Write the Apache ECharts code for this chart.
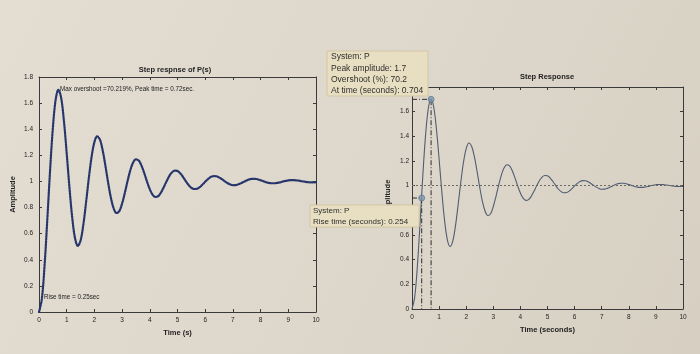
<!DOCTYPE html>
<html>
<head>
<meta charset="utf-8">
<script src="https://cdn.jsdelivr.net/npm/echarts@6/dist/echarts.min.js"></script>
<style>
html,body{margin:0;padding:0;background:#ded7cb;}
#c{width:700px;height:354px;}
</style>
</head>
<body>
<div id="c"></div>
<script>
// ---- data ----
const time = [0,0.1,0.2,0.3,0.4,0.5,0.6,0.7,0.8,0.9,1,1.1,1.2,1.3,1.4,1.5,1.6,1.7,1.8,1.9,2,2.1,2.2,2.3,2.4,2.5,2.6,2.7,2.8,2.9,3,3.1,3.2,3.3,3.4,3.5,3.6,3.7,3.8,3.9,4,4.1,4.2,4.3,4.4,4.5,4.6,4.7,4.8,4.9,5,5.1,5.2,5.3,5.4,5.5,5.6,5.7,5.8,5.9,6,6.1,6.2,6.3,6.4,6.5,6.6,6.7,6.8,6.9,7,7.1,7.2,7.3,7.4,7.5,7.6,7.7,7.8,7.9,8,8.1,8.2,8.3,8.4,8.5,8.6,8.7,8.8,8.9,9,9.1,9.2,9.3,9.4,9.5,9.6,9.7,9.8,9.9,10];
const amplitude = [0.000,0.096,0.353,0.708,1.084,1.408,1.624,1.702,1.640,1.463,1.216,0.952,0.722,0.566,0.507,0.547,0.668,0.841,1.027,1.190,1.301,1.346,1.320,1.237,1.117,0.986,0.871,0.791,0.758,0.773,0.831,0.914,1.006,1.088,1.145,1.170,1.160,1.121,1.063,0.998,0.940,0.899,0.881,0.887,0.914,0.954,0.999,1.040,1.070,1.083,1.080,1.062,1.034,1.002,0.973,0.952,0.942,0.944,0.956,0.976,0.998,1.018,1.034,1.041,1.040,1.031,1.018,1.002,0.988,0.977,0.971,0.972,0.978,0.987,0.998,1.008,1.016,1.020,1.020,1.016,1.009,1.002,0.994,0.989,0.986,0.986,0.989,0.993,0.999,1.004,1.008,1.010,1.010,1.008,1.005,1.001,0.998,0.995,0.993,0.993,0.994];
const peakPoint = [0.704, 1.7];
const risePoint = [0.358, 0.9];
const steadyState = 1;
const xRange = [0, 10];
const yRange = [0, 1.8];
const xStep = 1;
const yStep = 0.2;
const texts = {
  leftTitle: 'Step respnse of P(s)',
  leftNote: 'Max overshoot =70.219%, Peak time = 0.72sec.',
  riseNote: 'Rise time = 0.25sec',
  rightTitle: 'Step Response',
  leftX: 'Time (s)',
  rightX: 'Time (seconds)',
  yName: 'Amplitude',
  peakTip: ['System: P', 'Peak amplitude: 1.7', 'Overshoot (%): 70.2', 'At time (seconds): 0.704'],
  riseTip: ['System: P', 'Rise time (seconds): 0.254']
};

// ---- chart ----
const FONT = 'Liberation Sans, Arial, sans-serif';
const AX = '#3a3a3a';
const chart = echarts.init(document.getElementById('c'), null, {renderer: 'canvas'});
const curve = time.map((t, i) => [t, amplitude[i]]);

function xAx(grid, pos, name, show) {
  return {
    type: 'value', gridIndex: grid, position: pos, min: xRange[0], max: xRange[1], interval: xStep,
    name: show ? name : '', nameLocation: 'middle', nameGap: 17,
    nameTextStyle: {fontFamily: FONT, fontSize: 7.5, fontWeight: 'bold', color: '#222'},
    axisLine: {show: true, onZero: false, lineStyle: {color: AX, width: 1}},
    axisTick: {show: true, inside: true, length: 3, lineStyle: {color: AX}},
    axisLabel: {show: show, fontFamily: FONT, fontSize: 6.5, color: '#222', margin: 5},
    splitLine: {show: false}
  };
}
function yAx(grid, pos, show, gap, margin) {
  return {
    type: 'value', gridIndex: grid, position: pos, min: yRange[0], max: yRange[1], interval: yStep,
    name: show ? texts.yName : '', nameLocation: 'middle', nameGap: gap,
    nameTextStyle: {fontFamily: FONT, fontSize: 7.5, fontWeight: 'bold', color: '#222'},
    axisLine: {show: true, onZero: false, lineStyle: {color: AX, width: 1}},
    axisTick: {show: true, inside: true, length: 3, lineStyle: {color: AX}},
    axisLabel: {show: show, fontFamily: FONT, fontSize: 6.5, color: '#222', margin: margin},
    splitLine: {show: false}
  };
}

const dashDot = {color: '#2e2e2e', width: 1, type: [5, 2, 1, 2]};

const option = {
  backgroundColor: {
    type: 'linear', x: 0, y: 0, x2: 1, y2: 1,
    colorStops: [{offset: 0, color: '#e3ddd2'}, {offset: 0.5, color: '#ded7cb'}, {offset: 1, color: '#d6cfc2'}]
  },
  animation: false,
  grid: [
    {left: 39, top: 77, width: 277, height: 235},
    {left: 412, top: 87, width: 271, height: 222}
  ],
  xAxis: [
    xAx(0, 'bottom', texts.leftX, true),
    xAx(0, 'top', '', false),
    xAx(1, 'bottom', texts.rightX, true),
    xAx(1, 'top', '', false)
  ],
  yAxis: [
    yAx(0, 'left', true, 22, 6),
    yAx(0, 'right', false, 0, 0),
    yAx(1, 'left', true, 20, 3),
    yAx(1, 'right', false, 0, 0)
  ],
  series: [
    {
      type: 'line', xAxisIndex: 0, yAxisIndex: 0, data: curve, smooth: 0.35, showSymbol: false,
      lineStyle: {color: '#27366a', width: 2.2, type: [1.6, 1.3], cap: 'round'}
    },
    {
      type: 'line', xAxisIndex: 2, yAxisIndex: 2, data: curve, smooth: 0.35, showSymbol: false,
      lineStyle: {color: '#4f5d72', width: 1.1},
      markLine: {
        silent: true, symbol: 'none', label: {show: false},
        lineStyle: {color: '#6d6a66', width: 1, type: [2, 2]},
        data: [{yAxis: steadyState}]
      }
    },
    {
      type: 'line', xAxisIndex: 2, yAxisIndex: 2, showSymbol: false,
      data: [[xRange[0], peakPoint[1]], peakPoint, [peakPoint[0], yRange[0]]],
      lineStyle: dashDot
    },
    {
      type: 'line', xAxisIndex: 2, yAxisIndex: 2, showSymbol: false,
      data: [[xRange[0], risePoint[1]], risePoint, [risePoint[0], yRange[0]]],
      lineStyle: dashDot
    },
    {
      type: 'scatter', xAxisIndex: 2, yAxisIndex: 2, symbolSize: 6, z: 5,
      data: [peakPoint, risePoint],
      itemStyle: {color: '#7f97b0', borderColor: '#56708c', borderWidth: 0.8}
    }
  ],
  graphic: [
    {type: 'text', x: 175, y: 70, z: 50, style: {text: texts.leftTitle, font: 'bold 7.5px ' + FONT, fill: '#222', textAlign: 'center', textVerticalAlign: 'middle'}},
    {type: 'text', x: 60, y: 89, z: 50, style: {text: texts.leftNote, font: '6.3px ' + FONT, fill: '#222', textAlign: 'left', textVerticalAlign: 'middle'}},
    {type: 'text', x: 44, y: 297, z: 50, style: {text: texts.riseNote, font: '6.3px ' + FONT, fill: '#222', textAlign: 'left', textVerticalAlign: 'middle'}},
    {type: 'text', x: 547, y: 77, z: 50, style: {text: texts.rightTitle, font: 'bold 7.5px ' + FONT, fill: '#222', textAlign: 'center', textVerticalAlign: 'middle'}},
    {type: 'rect', z: 60, shape: {x: 327, y: 51, width: 101, height: 45}, style: {fill: '#e8dfc2', stroke: '#d2c6a4', lineWidth: 1}},
    {type: 'text', x: 331, y: 57, z: 61, style: {text: texts.peakTip[0], font: '8.5px ' + FONT, fill: '#2e2e2e', textVerticalAlign: 'middle'}},
    {type: 'text', x: 331, y: 68.3, z: 61, style: {text: texts.peakTip[1], font: '8.5px ' + FONT, fill: '#2e2e2e', textVerticalAlign: 'middle'}},
    {type: 'text', x: 331, y: 79.6, z: 61, style: {text: texts.peakTip[2], font: '8.5px ' + FONT, fill: '#2e2e2e', textVerticalAlign: 'middle'}},
    {type: 'text', x: 331, y: 90.9, z: 61, style: {text: texts.peakTip[3], font: '8.5px ' + FONT, fill: '#2e2e2e', textVerticalAlign: 'middle'}},
    {type: 'rect', z: 60, shape: {x: 310, y: 205, width: 109, height: 22}, style: {fill: '#e8dfc2', stroke: '#d2c6a4', lineWidth: 1}},
    {type: 'text', x: 313, y: 211, z: 61, style: {text: texts.riseTip[0], font: '8px ' + FONT, fill: '#2e2e2e', textVerticalAlign: 'middle'}},
    {type: 'text', x: 313, y: 221.3, z: 61, style: {text: texts.riseTip[1], font: '8px ' + FONT, fill: '#2e2e2e', textVerticalAlign: 'middle'}}
  ]
};
chart.setOption(option);
</script>
</body>
</html>
